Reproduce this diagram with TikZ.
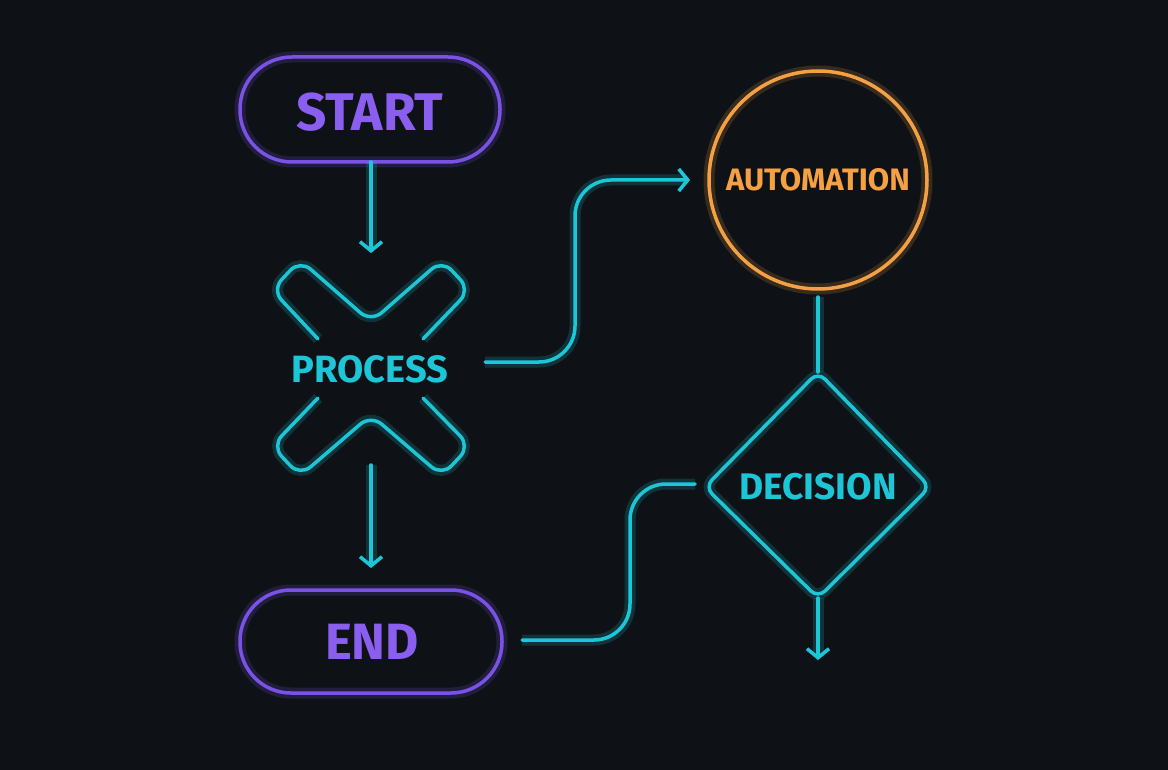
\documentclass[tikz,border=0pt]{standalone}
\usepackage{fontspec}
\setmainfont{Fira Sans}
\usetikzlibrary{arrows.meta,shapes.geometric}
\definecolor{bg}{HTML}{0E1217}
\definecolor{pur}{HTML}{7B52E6}
\definecolor{purt}{HTML}{8A5FF0}
\definecolor{cy}{HTML}{1DC6D6}
\definecolor{org}{HTML}{F4A043}
\begin{document}
\begin{tikzpicture}[x=1pt,y=-1pt,
  neon/.style={draw=#1,line width=3.5pt,line cap=round,line join=round,
    preaction={draw=#1,opacity=0.18,line width=11pt}},
  arr/.style={-{Straight Barb[length=9pt,width=22pt,line width=3.5pt]}},
  txt/.style={font=\fontsize{#1}{#1}\selectfont\bfseries}]
\fill[bg] (0,0) rectangle (1168,770);
\useasboundingbox (0,0) rectangle (1168,770);
% terminals
\draw[neon=pur,rounded corners=52pt] (240,57) rectangle (500,162);
\node[txt=53,text=purt] (start) at (370,112) {START};
\draw[neon=pur,rounded corners=51pt] (240,590) rectangle (502,693);
\node[txt=51,text=purt] (endn) at (372,642) {END};
\coordinate (sb) at (371,162);
% process X
\draw[neon=cy,rounded corners=14pt] (318,339) -- (272,290) -- (300,260) -- (371,322) -- (442,260) -- (470,290) -- (423,339);
\draw[neon=cy,rounded corners=14pt] (318,398) -- (272,446) -- (300,476) -- (371,415) -- (442,476) -- (470,446) -- (423,398);
\node[txt=38,text=cy] (proc) at (370,369) {PROCESS};
\coordinate (pt) at (371,253);
\coordinate (pb) at (371,465);
\coordinate (pr) at (485,362);
\coordinate (ebt) at (371,568);
\draw[neon=cy,arr] (sb) -- (pt);
\draw[neon=cy,arr] (pb) -- (ebt);
% automation
\node[circle,minimum size=218pt,neon=org,inner sep=0pt] (auto) at (818,180) {};
\node[txt=31,text=org] (autot) at (818,180) {AUTOMATION};
\coordinate (al) at (690,180);
\draw[neon=cy,arr,rounded corners=36pt] (pr) -- (575,362) -- (575,180) -- (al);
% decision
\draw[neon=cy,rounded corners=10pt] (818,372) -- (930,487) -- (818,598) -- (705,487) -- cycle;
\node[txt=37,text=cy] (dec) at (818,487) {DECISION};
\coordinate (ab) at (818,297);
\coordinate (dt) at (818,372);
\draw[neon=cy] (ab) -- (dt);
\coordinate (db) at (818,598);
\coordinate (dout) at (818,660);
\draw[neon=cy,arr] (db) -- (dout);
\coordinate (dl) at (695,484);
\coordinate (er) at (522,640);
\draw[neon=cy,rounded corners=36pt] (dl) -- (630,484) -- (630,640) -- (er);
\end{tikzpicture}
\end{document}
